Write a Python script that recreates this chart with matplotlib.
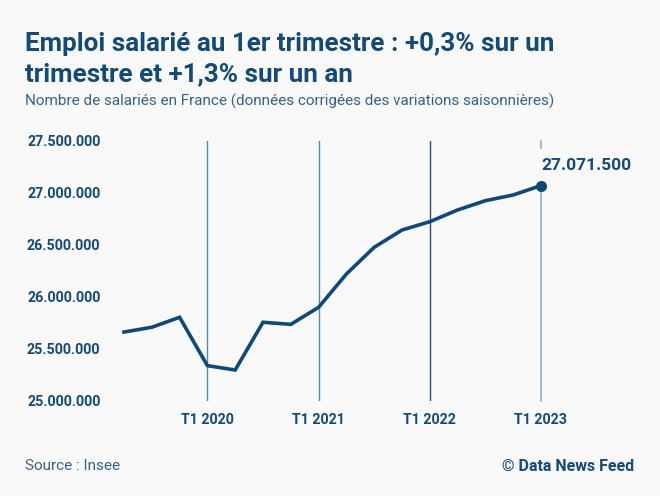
import matplotlib
matplotlib.use("Agg")
import matplotlib.pyplot as plt
from matplotlib.ticker import FuncFormatter

# quarterly salaried employment, T2 2019 .. T1 2023
quarters = ["T2 2019", "T3 2019", "T4 2019", "T1 2020", "T2 2020", "T3 2020", "T4 2020",
            "T1 2021", "T2 2021", "T3 2021", "T4 2021", "T1 2022", "T2 2022", "T3 2022",
            "T4 2022", "T1 2023"]
salaries = [25663000, 25709000, 25805000, 25340000, 25298000, 25757000, 25737000,
            25901000, 26221000, 26478000, 26644000, 26724000, 26837000, 26926000,
            26981000, 27071500]
y_ticks = [25000000, 25500000, 26000000, 26500000, 27000000, 27500000]
marked = ["T1 2020", "T1 2021", "T1 2022", "T1 2023"]
marked_colors = ["#5a86ad", "#5a86ad", "#2c4f6e", "#8fb0c9"]

BG = "#f9f9f9"
BLUE = "#0e4a79"
TEXT = "#134a78"
GREY = "#38618a"

plt.rcParams["font.family"] = ["Roboto", "DejaVu Sans"]

fig = plt.figure(figsize=(6.6, 4.96), dpi=100, facecolor=BG)
W, H = 660, 496
ax = fig.add_axes([124 / W, 1 - 401 / H, (541 - 124) / W, (401 - 141) / H])
ax.set_facecolor(BG)

x = list(range(len(quarters)))
xi = [quarters.index(q) for q in marked]

for i, c in zip(xi, marked_colors):
    if quarters[i] == quarters[-1]:
        ax.plot([i, i], [y_ticks[0], salaries[-1]], color=c, lw=1.2, zorder=1, clip_on=False)
        ax.plot([i, i], [y_ticks[-1], y_ticks[-1] - 70000], color=c, lw=1.2, zorder=1, clip_on=False)
    else:
        ax.plot([i, i], [y_ticks[0], y_ticks[-1]], color=c, lw=1.0, zorder=1)

ax.plot(x, salaries, color=BLUE, lw=2.6, solid_joinstyle="miter", zorder=3, clip_on=False)
ax.plot(x[-1], salaries[-1], "o", ms=7, color=BLUE, zorder=4, clip_on=False)
ax.annotate(f"{salaries[-1]:,.0f}".replace(",", "."), (x[-1], salaries[-1]),
            xytext=(0, 9), textcoords="offset points", ha="left", va="bottom",
            fontsize=12.5, fontweight="bold", color=TEXT)

ax.set_xlim(0, len(quarters) - 1)
ax.set_ylim(y_ticks[0], y_ticks[-1])
ax.set_yticks(y_ticks)
ax.yaxis.set_major_formatter(FuncFormatter(lambda v, p: f"{v:,.0f}".replace(",", ".")))
ax.set_xticks(xi)
ax.set_xticklabels(marked)
ax.tick_params(length=0, labelcolor=TEXT, labelsize=10.3)
ax.tick_params(axis="y", pad=17)
ax.tick_params(axis="x", pad=9)
for lab in ax.get_xticklabels() + ax.get_yticklabels():
    lab.set_fontweight("bold")
for s in ax.spines.values():
    s.set_visible(False)

fig.text(25 / W, 1 - 44 / H, "Emploi salarié au 1er trimestre : +0,3% sur un",
         fontsize=18.7, fontweight="bold", color=TEXT, va="center")
fig.text(25 / W, 1 - 74 / H, "trimestre et +1,3% sur un an",
         fontsize=18.7, fontweight="bold", color=TEXT, va="center")
fig.text(25 / W, 1 - 101 / H,
         "Nombre de salariés en France (données corrigées des variations saisonnières)",
         fontsize=11, color=GREY, va="center")
fig.text(25 / W, 1 - 466 / H, "Source : Insee", fontsize=11, color=GREY, va="center")
fig.text(634 / W, 1 - 466 / H, "© Data News Feed", fontsize=11.5, color=TEXT,
         va="center", ha="right", fontweight="bold")

fig.savefig("out.png", dpi=100, facecolor=BG)
